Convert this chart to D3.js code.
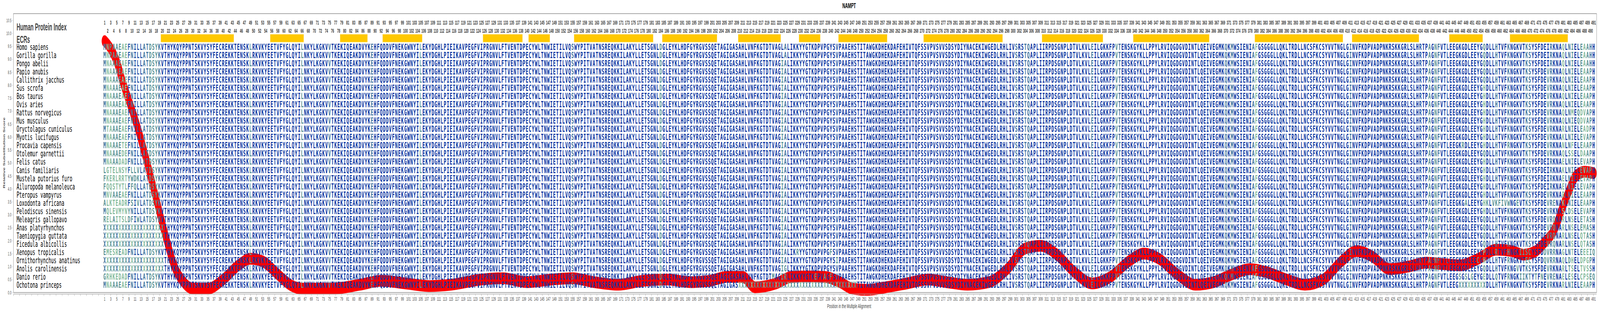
<!DOCTYPE html>
<html><head><meta charset="utf-8">
<script src="https://cdn.jsdelivr.net/npm/d3@7"></script>
<style>html,body{margin:0;padding:0;background:#fff;overflow:hidden}svg{display:block}</style>
</head><body>
<script>
const humanSeq = "MNPAAEAEFNILLATDSYKVTHYKQYPPNTSKVYSYFECREKKTENSKLRKVKYEETVFYGLQYILNKYLKGKVVTKEKIQEAKDVYKEHFQDDVFNEKGWNYILEKYDGHLPIEIKAVPEGFVIPRGNVLFTVENTDPECYWLTNWIETILVQSWYPITVATNSREQKKILAKYLLETSGNLDGLEYKLHDFGYRGVSSQETAGIGASAHLVNFKGTDTVAGLALIKKYYGTKDPVPGYSVPAAEHSTITAWGKDHEKDAFEHIVTQFSSVPVSVVSDSYDIYNACEKIWGEDLRHLIVSRSTQAPLIIRPDSGNPLDTVLKVLEILGKKFPVTENSKGYKLLPPYLRVIQGDGVDINTLQEIVEGMKQKMWSIENIAFGSGGGLLQKLTRDLLNCSFKCSYVVTNGLGINVFKDPVADPNKRSKKGRLSLHRTPAGNFVTLEEGKGDLEEYGQDLLHTVFKNGKVTKSYSFDEIRKNAQLNIELEAAHH";
const species = ["Homo sapiens","Gorilla gorilla","Pongo abelii","Papio anubis","Callithrix jacchus","Sus scrofa","Bos taurus","Ovis aries","Rattus norvegicus","Mus musculus","Oryctolagus cuniculus","Myotis lucifugus","Procavia capensis","Otolemur garnettii","Felis catus","Canis familiaris","Mustela putorius furo","Ailuropoda melanoleuca","Pteropus vampyrus","Loxodonta africana","Pelodiscus sinensis","Meleagris gallopavo","Anas platyrhynchos","Taeniopygia guttata","Ficedula albicollis","Xenopus tropicalis","Ornithorhynchus anatinus","Anolis carolinensis","Danio rerio","Ochotona princeps"];
// columns 1-12
const headSegs = ["MNPAAEAEFNIL","MNPAAEAEFNIL","MNAAAEAEFNIL","MNAAAEAEFNIL","MNAAAEAEFNIL","MNAAAEAEFNIL","MNAAAEAEFNIL","MNAAAEAEFNIL","MNAAAEAEFNIL","MNAAAEAEFNIL","MTAAAEAEFNIL","MNAAAEAEFNIL","MNAAAETEFNIL","MNAAAEDEFNIL","MNAAADADFNIL","LGTELNSYFLLV","FKERLRRTYWDK","FQQSTYTLFFQL","MNVAAEAEFNIL","ALKTEADRFSIV","MQLEVMYNYNIL","RELAITSLDFIW","XXXXXXXXXXXX","XXXXXXXXXXXX","XXXXXXXXXXXX","EMESREADFNIL","XXXXXXXXXXXX","XXXXXXXXXXXX","GRHKEDADFNIL","MNAAAEAEFNIL"];
// columns 210-249
const midSegs = ["AHLVNFKGTDTVAGLALIKKYYGTKDPVPGYSVPAAEHST","AHLVNFKGTDTVAGLALIKKYYGTKDPVPGYSVPAAEHST"].concat(
  d3.range(2,25).map(()=>"AHLVNFKGTDTVAGIALIKKYYGTKDPVPGYSVPAAEHST"),
  ["AHLVNFKGTDTVAGIALIKRYYGTKDPVPGFSVPAAEHST","AHLVNFKGTDTVAGIALIKKYYGTKDPVPGYSIPAAEHST","AHLVNFKGTDTVAGIGLIKKYYGTKDPVPGYSVPAAEHST","AHLVNFKGTDTMAGIRLIKKYYGTKEPVAGFSVPAAEHST","XXXXXXXXXXXXXXXXXXXXXXXXXXXXXXXXXXXXXXXT"]);
// columns 447-491
const tailSegs = ["KGDLEEYGQDLLHTVFKNGKVTKSYSFDEIRKNAQLNIELEAAHH","KGDLEEYGQDLLHTVFKNGKVTKSYSFDEIRKNAQLNIELEAAHH","KGDLEEYGQDLLHTVFKNGKVTKSYSFDEIRKNAQLNIELEAAHH",
"KGDLEEYGQDLLHTVFKNGKVTKSYSFDEVRKNAQLNIELEAAPH","KGDLEEYGQDLLHTVFKNGKVTKSYSFDEVRKNAQLNIELEAAPH","KGDLEEYGHDLLHTVFKNGKVTKSYSFDEVRKNAQLNIELEAAPH","KGDLEEYGHDLLHTVFKNGKVTKSYSFDEVRKNAQLNIELEAAPH","KGDLEEYGHDLLHTVFKNGKVTKSYSFDEVRKNAQLNIELEAAPH",
"KGDLEEYGHDLLHTVFKNGKVTKSYSFDEVRKNAQLNMEQDVAPH",
"KGDLEEYGHDLLHTVFKNGKVTKSYSFDEVRKNAQLNIEQDVAPH","KGDLEEYGHDLLHTVFKNGKVTKSYSFDEVRKNARLNIELEADPH","KGDLEEYGHDLLHTVFKNGKVTKSYSFDEVRKNAKLNIELEVAPH","KRDLEEYGHDLLHTVFRNGKVTKSYSFDEVRKNANLNFELEAAPH","KGDLEEYGQDLLHTVFKNGKVTKTYSFDEVRKNAQLSSELDAAPH","KGDLEEYGHDLLHTVFKNGKVTKSYSFDEIRKNAELNIELEVAPH","KGDLEEYGHDLLHTVFKNGKVTKSYSFDEIRKNAKLNIELEVAPH","KGDLEEYGHDLLHTVFKNGKVTKSYSFDEIRKNAELNIELEVAPH","KGDLEEYGHDLLHTVFKNGKVTKSYSFDEIRKNAELNIELEVAPH","KGDLEEYGHDLLHTVFKNGKVTKSYSFDEVRKNARLNIELEAAPH","KGALEEYGHKLVKFIVWNGEVTKSYSFDEVRENAKLNIELEAAPH","KGDLEEYGHDLLHTVFKNGKVTKSYSFDEVRKNASLDSELEVAPH","KGDLEEYGQDLLHTVFKNGKVTKSYSFDEVRQNARLNSELETASH","KGDLEEYGQDLLHTVFKNGKVTKSYSFDEVRQNARLNSELEMASH","KGDLEEYGQDLLHTVFKNGKVTKSYSFDEVRQNARLNSELQTASH","KGDLEEYGQDLLHTVFKNGKVTKSYSFDEVRQNARLNSELQTASH","KGDLEEYGPDLLRTVFHNGKIISCYSFDDVRRNAGLNTELEEEIQ","KGDLEECGHDLLHTVFRNGKVTECYSFDQVRRNAQLDHELDPGPH","KGDLEEYGQDLLHTVFKNGVVTKSYSFDEVRKNARLTSELTVSSH","SGSLGEYGEDLLQTVFRNGKIIKTYTFNEVRENAELESELCPSEQ","XXXXXXXXXDLLHTVFKNGKVTKSYSFDEVRKNARLNIELEAAPH"];
// ECR bars [start, end] column
const ecrStarts = [20,56,79,93,126,141,156,185,210,230,243,271,310,340,380,412,444,464];
const ecrEnds   = [43,66,87,105,138,147,181,202,223,236,258,296,329,364,408,433,454,482];
const levelCols = [1,2,3,4,5,6,7,8,9,10,11,12,13,14,15,16,17,18,19,49,66,75,89,105,155,184,225,242,301,304,305,326,334,335,370,372,379,380,411,434,437,439,440,443,455,459,463,469,470,477,481,483,484,487,488,489,490];
const levelVals = [2,4,3,3,3,3,4,4,1,2,1,1,1,2,2,3,3,3,2,3,3,2,2,3,2,3,2,1,2,2,2,2,3,2,2,2,2,4,2,1,3,3,2,1,3,2,2,2,2,2,4,2,3,3,4,3,2];
// relative substitution score curve
const scorePos = [1,3,5,7,9,12,15,18,21,24,27,30,35,40,45,49,53,58,62,66,70,76,85,92,100,108,115,125,132,140,148,155,162,170,178,186,194,200,206,211,215,222,227,232,238,243,247,252,258,265,272,278,285,292,298,304,309,314,320,326,332,338,343,348,354,360,366,372,378,383,390,396,402,408,413,418,424,430,436,441,447,453,459,464,468,472,475,478,481,483,485,488,491];
const scoreVal = [9.7,9.4,8.9,8.1,7.4,6.3,5.0,3.6,2.2,1.0,0.4,0.15,0.15,0.5,1.05,1.3,1.2,0.7,0.3,0.15,0.15,0.15,0.3,0.45,0.35,0.25,0.3,0.5,0.55,0.4,0.5,0.55,0.4,0.3,0.45,0.5,0.4,0.45,0.6,0.6,0.2,0.35,0.6,0.62,0.6,0.4,0.15,0.1,0.2,0.35,0.5,0.4,0.3,0.4,0.9,1.7,1.8,1.5,0.8,0.35,0.6,1.2,1.5,1.3,0.7,0.3,0.4,0.7,0.9,0.8,0.5,0.3,0.5,1.2,1.6,1.4,0.9,1.0,1.15,1.1,1.05,1.3,1.65,1.6,1.46,1.6,1.95,2.4,3.35,3.95,4.47,4.66,4.6];
const yTicks = d3.range(0,10.51,0.5);

const W=7995,H=800, N=humanSeq.length;
const svg=d3.select("body").append("svg").attr("viewBox",`0 0 ${W} ${H}`)
  .attr("preserveAspectRatio","none").style("width","100vw").style("height","100vh");
const x=d3.scaleLinear().domain([1,491]).range([523,7963]);
const cw=(x(2)-x(1));
const y=d3.scaleLinear().domain([0,10.5]).range([750,52]);
const row=d3.scaleLinear().domain([0,29]).range([128,738]);

const seqs=species.map((s,r)=>{
  let a=humanSeq.split("");
  headSegs[r].split("").forEach((c,i)=>a[i]=c);
  midSegs[r].split("").forEach((c,i)=>a[209+i]=c);
  tailSegs[r].split("").forEach((c,i)=>a[446+i]=c);
  if([22,23,24,26,27].includes(r)) for(let i=12;i<20;i++) a[i]="X";
  return a;
});
const lvl=new Map(levelCols.map((c,i)=>[c,levelVals[i]]));
const palette=["#0a36a2","#2454a8","#44779f","#5a9396","#85ba9c"];

const font="Liberation Sans, Arial, sans-serif";
svg.append("text").attr("x",x(246)).attr("y",21).attr("text-anchor","middle").attr("font-family",font).attr("font-weight","bold").attr("font-size",19).text("NAMPT");
svg.append("rect").attr("x",67).attr("y",35).attr("width",7978-67).attr("height",750-35).attr("fill","none").attr("stroke","#8a8a8a").attr("stroke-width",1.5);

svg.append("g").selectAll("rect").data(ecrStarts).join("rect")
 .attr("x",(d)=>x(d)-cw/2).attr("width",(d,i)=>x(ecrEnds[i])-x(d)+cw)
 .attr("y",88).attr("height",20).attr("fill","#ffc800").attr("stroke","#ffe27a").attr("stroke-width",1);

const cols=d3.range(1,N+1);
svg.append("g").selectAll("text").data(cols).join("text")
 .attr("x",d=>x(d)).attr("y",d=>d%2?63:84).attr("text-anchor","middle")
 .attr("font-family",font).attr("font-weight","bold").attr("font-size",14).attr("fill","#3c3c3c").text(d=>d);

svg.append("path").datum(scorePos.map((p,i)=>[p,scoreVal[i]]))
 .attr("d",d3.line().x(d=>x(d[0])).y(d=>y(d[1])).curve(d3.curveMonotoneX))
 .attr("fill","none").attr("stroke","#ff0000").attr("stroke-width",30).attr("stroke-linecap","round").attr("stroke-linejoin","round");

svg.append("text").attr("x",83).attr("y",78).attr("font-family",font).attr("font-weight","bold").attr("font-size",25).attr("fill","#444").text("Human Protein Index");
svg.append("text").attr("x",83).attr("y",110).attr("font-family",font).attr("font-weight","bold").attr("font-size",25).attr("fill","#444").text("ECRs");
svg.append("g").selectAll("text").data(species).join("text")
 .attr("x",83).attr("y",(d,i)=>row(i)).attr("font-family","DejaVu Sans Mono").attr("font-size",22).attr("fill","#000").text(d=>d);

const g=svg.append("g").attr("font-family","DejaVu Sans Mono").attr("font-weight","bold").attr("font-size",22).attr("text-anchor","middle");
seqs.forEach((a,r)=>{
  g.append("g").selectAll("text").data(a).join("text")
   .attr("x",(c,i)=>x(i+1)).attr("y",row(r))
   .attr("fill",(c,i)=>{let l=lvl.get(i+1)||0; if(c!==humanSeq[i]) l=Math.min(4,Math.max(l,2)+1); if(c==="X") l=[2,4,3,3][i%4]; return palette[l];})
   .text(c=>c);
});

svg.append("line").attr("x1",67).attr("x2",7978).attr("y1",754).attr("y2",754).attr("stroke","#aaa").attr("stroke-width",1.5);
const bt=d3.range(-29,492,2);
svg.append("g").selectAll("line").data(bt).join("line").attr("x1",d=>x(d)).attr("x2",d=>x(d)).attr("y1",754).attr("y2",759).attr("stroke","#aaa");
svg.append("g").selectAll("text").data(bt.filter(d=>d>=1)).join("text").attr("x",d=>x(d)).attr("y",771).attr("text-anchor","middle").attr("font-family",font).attr("font-size",13).attr("fill","#444").text(d=>d);
svg.append("text").attr("x",x(246)).attr("y",790).attr("text-anchor","middle").attr("font-family",font).attr("font-size",15).attr("fill","#444").text("Position in the Multiple Alignment");

const ya=svg.append("g").attr("transform","translate(64,0)").call(d3.axisLeft(y).tickValues(yTicks).tickFormat(d3.format(".1f")).tickSize(4));
ya.select(".domain").remove();
ya.selectAll("line").attr("stroke","#aaa");
ya.selectAll("text").attr("font-family",font).attr("font-size",13).attr("fill","#555");
svg.append("text").attr("transform","translate(25,392) rotate(-90)").attr("text-anchor","middle").attr("font-family",font).attr("font-weight","bold").attr("font-size",14).attr("fill","#555").text("Relative Substitution Score");
</script>
</body></html>
